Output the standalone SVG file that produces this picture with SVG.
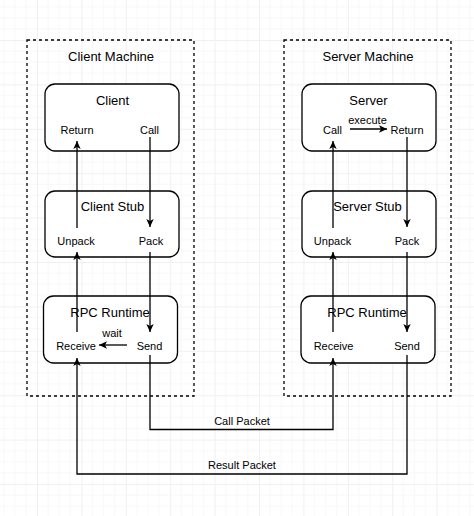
<svg xmlns="http://www.w3.org/2000/svg" width="474" height="516" viewBox="0 0 474 516">
<defs>
<pattern id="grid" width="44.4" height="44.4" patternUnits="userSpaceOnUse" x="37" y="40">
<path d="M11.1,0V44.4M22.2,0V44.4M33.3,0V44.4M0,11.1H44.4M0,22.2H44.4M0,33.3H44.4" stroke="#f8f8f8" stroke-width="1" fill="none"/>
<path d="M0.5,0V44.4M0,0.5H44.4" stroke="#f0f0f0" stroke-width="1" fill="none"/>
</pattern>
<marker id="arr" markerUnits="userSpaceOnUse" markerWidth="10" markerHeight="10" refX="9" refY="4.5" orient="auto">
<path d="M1,0.8 L9,4.5 L1,8.2 L3,4.5 Z" fill="#000"/>
</marker>
<style>
.mach{fill:none;stroke:#000;stroke-width:1.3;stroke-dasharray:3 3}
.box{fill:#fff;stroke:#000;stroke-width:1.3}
.t{font-family:"Liberation Sans",Arial,sans-serif;fill:#000;text-anchor:middle}
.big{font-size:13px}
.sm{font-size:11px}
.c{fill:none;stroke:#000;stroke-width:1.3;marker-end:url(#arr)}
</style>
</defs>
<rect width="474" height="516" fill="#fff"/>
<rect width="474" height="516" fill="url(#grid)"/>

<g id="client-machine">
<rect class="mach" x="27" y="40" width="167" height="356"/>
<text class="t big" x="111" y="60.5">Client Machine</text>
</g>
<g id="server-machine">
<rect class="mach" x="284" y="40" width="167" height="356"/>
<text class="t big" x="368" y="60.5">Server Machine</text>
</g>

<g id="client">
<rect class="box" x="45" y="84" width="134" height="67" rx="10"/>
<text class="t big" x="112.5" y="105">Client</text>
<text class="t sm" x="77" y="134">Return</text>
<text class="t sm" x="149.5" y="134">Call</text>
</g>
<g id="client-stub">
<rect class="box" x="45" y="191" width="134" height="66" rx="10"/>
<text class="t big" x="112.5" y="211">Client Stub</text>
<text class="t sm" x="76" y="245">Unpack</text>
<text class="t sm" x="151" y="245">Pack</text>
</g>
<g id="client-runtime">
<rect class="box" x="43.5" y="296" width="134" height="67" rx="10"/>
<text class="t big" x="110" y="317">RPC Runtime</text>
<text class="t sm" x="112" y="336.5">wait</text>
<text class="t sm" x="76" y="350">Receive</text>
<text class="t sm" x="149.5" y="350">Send</text>
</g>

<g id="server">
<rect class="box" x="302" y="84" width="134" height="67" rx="10"/>
<text class="t big" x="368.5" y="105">Server</text>
<text class="t sm" x="367.5" y="124">execute</text>
<text class="t sm" x="332.5" y="134">Call</text>
<text class="t sm" x="407" y="134">Return</text>
</g>
<g id="server-stub">
<rect class="box" x="302" y="191" width="134" height="66" rx="10"/>
<text class="t big" x="367.5" y="211">Server Stub</text>
<text class="t sm" x="332.5" y="245">Unpack</text>
<text class="t sm" x="407" y="245">Pack</text>
</g>
<g id="server-runtime">
<rect class="box" x="301" y="296" width="134" height="67" rx="10"/>
<text class="t big" x="367" y="317">RPC Runtime</text>
<text class="t sm" x="333.5" y="350">Receive</text>
<text class="t sm" x="407" y="350">Send</text>
</g>

<g id="connectors">
<path class="c" d="M77,228 V141"/>
<path class="c" d="M150,137 V227"/>
<path class="c" d="M77,332 V252"/>
<path class="c" d="M150,252 V332"/>
<path class="c" d="M127,345 H99"/>
<path class="c" d="M333,332 V252"/>
<path class="c" d="M333,228 V141"/>
<path class="c" d="M407,137 V227"/>
<path class="c" d="M407,252 V332"/>
<path class="c" d="M350,129 H387"/>
<path class="c" d="M150,355 V429.5 H333 V358"/>
<path class="c" d="M407,355 V474 H77 V358"/>
<text class="t sm" x="242" y="424.5">Call Packet</text>
<text class="t sm" x="242" y="469">Result Packet</text>
</g>
</svg>
